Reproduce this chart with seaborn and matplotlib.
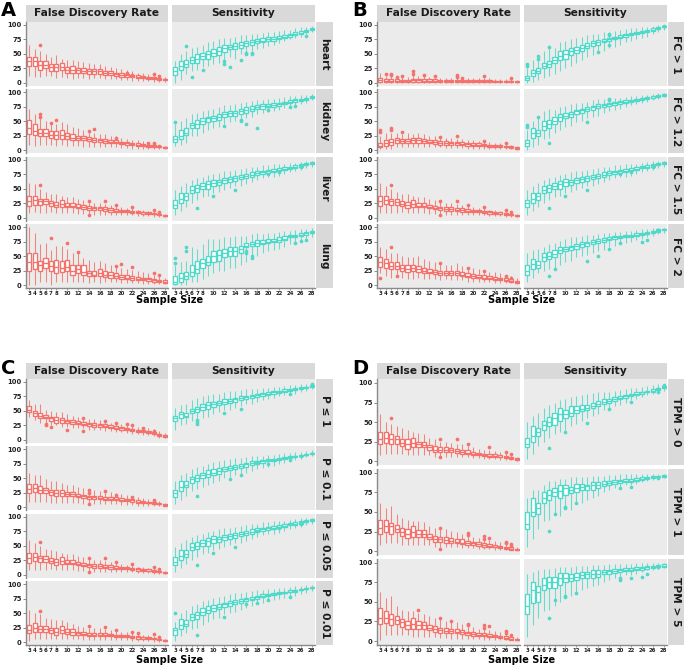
import numpy as np
import pandas as pd
import matplotlib
matplotlib.use("Agg")
import matplotlib.pyplot as plt
import seaborn as sns

# ---------------- categories / labels ----------------
SIZES = [3, 4, 5, 6, 7, 8, 9, 10, 11, 12, 13, 14, 15, 16, 17, 18, 19, 20, 21, 22, 23, 24, 25, 26, 27, 28]
XTICKS = [3, 4, 5, 6, 7, 8, 10, 12, 14, 16, 18, 20, 22, 24, 26, 28]
YTICKS = [0, 25, 50, 75, 100]
COLUMNS = ["False Discovery Rate", "Sensitivity"]
A_ROWS = ["heart", "kidney", "liver", "lung"]
B_ROWS = ["FC > 1", "FC > 1.2", "FC > 1.5", "FC > 2"]
C_ROWS = ["P \u2264 1", "P \u2264 0.1", "P \u2264 0.05", "P \u2264 0.01"]
D_ROWS = ["TPM > 0", "TPM > 1", "TPM > 5"]

# ---------------- Panel A ----------------
A1_fdr_med = [38,37,31,31,27,27,27,23,23,22,21,20,20,20,17,17,15,14,13,12,11,10,9,8,7,6]
A1_fdr_q1  = [30,30,22,25,20,20,22,18,18,18,17,16,16,16,14,14,12,11,11,10,9,8,7,6,5,5]
A1_fdr_q3  = [45,45,38,37,32,33,34,28,29,26,25,24,24,24,21,20,18,17,15,14,13,12,11,10,8,7]
A1_fdr_lo  = [12,10,10,12,12,8,10,8,6,8,8,6,8,8,6,6,6,5,5,4,4,3,3,2,2,2]
A1_fdr_hi  = [66,58,55,50,45,48,42,40,40,38,36,35,33,32,30,28,25,24,22,20,18,17,15,14,12,10]
A1_fdr_out = [(5,65),(21,17),(22,13),(26,15),(27,12)]
A1_sen_med = [20,30,32,40,42,47,50,52,55,60,62,63,65,68,70,72,73,75,76,78,80,82,84,86,90,93]
A1_sen_q1  = [14,22,27,35,35,42,42,47,49,54,58,58,60,63,66,68,70,72,73,75,78,80,82,84,88,91]
A1_sen_q3  = [27,37,40,45,50,52,55,58,62,65,66,68,70,72,74,76,78,79,80,81,83,85,87,89,92,95]
A1_sen_lo  = [0,5,15,20,22,28,30,32,35,40,45,42,50,52,55,58,60,63,66,68,72,75,78,80,84,88]
A1_sen_hi  = [38,50,55,60,62,65,70,72,75,78,78,80,82,82,85,85,86,88,88,90,92,92,94,96,97,98]
A1_sen_out = [(5,63),(6,10),(8,22),(12,38),(12,32),(13,27),(15,40),(16,50),(16,52),(17,50),(17,52),(27,81)]

A2_fdr_med = [38,33,30,30,26,26,27,24,22,21,21,20,18,17,16,15,14,13,12,11,10,9,8,7,6,5]
A2_fdr_q1  = [28,27,25,25,22,20,20,19,18,18,18,16,15,14,13,13,12,11,10,9,8,7,6,6,5,4]
A2_fdr_q3  = [52,45,37,36,33,33,35,30,28,25,25,23,21,20,19,18,17,15,14,13,12,11,10,9,8,6]
A2_fdr_lo  = [10,8,10,10,10,8,10,8,8,8,6,6,6,5,5,5,5,4,4,3,3,3,2,2,2,2]
A2_fdr_hi  = [72,62,55,50,45,45,48,45,40,38,35,33,30,28,28,25,24,22,20,18,17,16,14,12,10,8]
A2_fdr_out = [(5,58),(5,62),(7,47),(8,53),(14,33),(15,37),(19,22),(25,12),(26,12),(26,10),(27,8)]
A2_sen_med = [20,25,30,43,45,50,55,55,57,62,65,65,68,70,72,75,76,77,78,80,82,84,86,87,89,92]
A2_sen_q1  = [15,20,27,38,38,45,48,50,52,57,60,60,62,65,68,71,72,74,75,77,79,81,83,85,87,90]
A2_sen_q3  = [25,35,38,47,52,55,58,60,62,66,68,68,72,74,76,78,79,80,81,82,84,86,88,89,91,94]
A2_sen_lo  = [8,10,12,25,25,30,35,38,40,45,48,50,52,55,58,62,65,66,68,70,73,75,78,80,82,86]
A2_sen_hi  = [45,50,55,62,65,67,70,72,75,78,78,80,82,83,85,86,87,88,88,90,92,93,94,95,96,97]
A2_sen_out = [(3,48),(12,42),(15,50),(15,52),(16,46),(18,38),(20,69),(24,75),(25,76)]

A3_fdr_med = [28,30,28,28,25,22,23,21,21,19,18,17,16,16,15,13,12,12,11,10,9,9,8,7,6,3]
A3_fdr_q1  = [20,22,22,23,20,18,18,18,18,16,15,14,13,13,12,10,10,10,9,8,8,7,6,6,5,3]
A3_fdr_q3  = [38,38,33,32,28,27,30,25,25,23,22,20,19,18,18,16,15,14,13,12,11,10,9,8,7,4]
A3_fdr_lo  = [8,10,8,8,10,8,8,8,8,6,6,6,5,5,5,5,4,4,4,4,3,3,3,2,2,2]
A3_fdr_hi  = [60,58,50,45,40,40,38,36,35,32,30,28,26,25,24,22,20,18,17,16,14,13,12,11,10,6]
A3_fdr_out = [(5,56),(14,28),(14,5),(17,28),(19,22),(22,19),(26,13),(27,10)]
A3_sen_med = [22,32,37,48,52,55,58,60,62,65,67,68,70,72,74,77,78,80,81,82,84,86,88,90,92,94]
A3_sen_q1  = [17,25,30,42,45,50,50,55,57,60,62,63,66,68,70,73,75,77,78,80,82,84,86,88,90,93]
A3_sen_q3  = [30,42,42,55,57,60,64,65,65,68,70,72,74,76,78,80,81,83,84,85,87,88,90,92,94,96]
A3_sen_lo  = [5,12,18,25,30,35,38,42,45,48,52,55,55,58,62,65,68,70,70,72,75,78,80,82,85,88]
A3_sen_hi  = [48,55,60,65,68,70,74,75,77,80,80,82,84,86,87,88,90,90,92,92,93,94,95,96,98,98]
A3_sen_out = [(7,17),(10,38),(14,48),(20,76),(22,78),(26,87)]

A4_fdr_med = [40,40,35,38,33,32,30,32,25,27,23,20,18,20,18,17,16,14,13,12,11,10,10,8,7,6]
A4_fdr_q1  = [25,28,25,30,25,20,22,25,18,20,18,15,15,16,14,13,13,11,10,9,8,8,7,6,5,4]
A4_fdr_q3  = [55,55,42,46,42,43,42,43,35,35,35,25,24,28,24,22,20,18,17,16,14,13,12,11,9,8]
A4_fdr_lo  = [0,0,5,5,0,5,5,5,5,5,5,3,5,3,5,5,5,3,3,3,3,2,2,2,2,2]
A4_fdr_hi  = [100,90,70,72,60,68,67,63,55,55,46,43,40,42,38,35,32,30,28,26,24,22,20,18,15,12]
A4_fdr_out = [(7,81),(10,73),(12,57),(19,33),(20,36),(22,31),(26,21),(27,17)]
A4_sen_med = [5,12,15,22,28,38,40,50,52,55,58,58,62,68,70,72,72,75,76,77,80,84,84,87,89,92]
A4_sen_q1  = [2,5,10,15,20,30,35,40,42,48,50,50,55,65,67,68,70,72,74,75,78,82,82,85,87,90]
A4_sen_q3  = [15,20,22,35,42,45,50,58,60,62,65,65,68,72,74,78,78,80,80,82,84,87,87,90,92,94]
A4_sen_lo  = [0,0,0,5,5,10,15,20,25,25,30,30,35,40,45,50,55,58,60,62,65,70,72,75,78,82]
A4_sen_hi  = [35,40,42,65,62,70,80,80,80,82,82,85,85,85,88,90,88,90,90,92,93,94,95,96,97,98]
A4_sen_out = [(3,46),(3,38),(5,65),(5,58),(16,58),(16,56),(17,50),(17,47),(25,73),(26,76),(27,78)]

# ---------------- Panel B ----------------
B1_fdr_med = [5,4,4,4,3,3,5,5,4,4,4,3,3,4,4,4,4,4,4,4,4,3,3,3,3,2]
B1_fdr_q1  = [2,2,2,2,2,2,2,2,2,2,2,2,2,2,2,2,2,2,2,2,2,2,2,2,1,1]
B1_fdr_q3  = [8,6,6,6,5,5,6,6,6,6,6,5,5,5,5,5,5,5,5,5,5,4,4,4,4,3]
B1_fdr_lo  = [0,0,0,0,0,0,0,0,0,0,0,0,0,0,0,0,0,0,0,0,0,0,0,0,0,0]
B1_fdr_hi  = [18,12,14,12,10,10,14,12,12,10,10,9,9,8,10,10,9,8,8,8,8,7,7,6,6,5]
B1_fdr_out = [(4,15),(5,16),(5,14),(6,10),(7,12),(9,20),(9,15),(11,14),(13,12),(17,14),(17,11),(18,9),(22,12),(27,8)]
B1_sen_med = [8,18,20,30,32,40,47,50,55,57,60,63,68,70,72,75,78,80,82,84,86,88,90,92,94,97]
B1_sen_q1  = [5,12,17,25,27,35,40,42,48,52,55,60,63,66,70,72,75,78,80,82,84,86,88,90,93,96]
B1_sen_q3  = [12,22,25,35,38,45,55,57,60,62,65,68,72,74,76,78,80,83,84,86,88,90,92,94,96,98]
B1_sen_lo  = [0,2,5,8,12,15,20,25,30,35,40,45,48,55,55,60,62,65,70,72,75,78,80,85,88,92]
B1_sen_hi  = [25,40,45,55,65,60,70,72,75,78,80,82,84,85,87,88,90,92,93,94,95,96,97,98,99,100]
B1_sen_out = [(3,33),(3,30),(5,47),(5,42),(7,62),(16,54),(18,84),(18,82),(18,66),(28,98)]

B2_fdr_med = [8,12,15,17,16,16,17,18,16,15,14,13,13,12,12,11,11,10,10,9,8,8,7,6,5,4]
B2_fdr_q1  = [5,7,10,12,12,12,12,13,13,12,11,10,10,10,9,9,8,8,8,7,6,6,5,5,4,3]
B2_fdr_q3  = [12,18,20,22,20,20,22,21,19,18,17,16,16,15,15,14,13,12,12,11,10,10,9,8,7,5]
B2_fdr_lo  = [2,3,3,5,5,5,5,5,5,5,5,5,4,4,4,4,3,3,3,3,3,2,2,2,2,1]
B2_fdr_hi  = [25,30,30,30,28,30,28,30,28,25,24,22,22,21,20,20,18,17,16,15,14,13,12,11,10,7]
B2_fdr_out = [(3,35),(3,32),(5,38),(5,35),(7,31),(14,23),(17,24),(22,16),(26,12)]
B2_sen_med = [12,30,30,42,45,50,58,60,62,67,70,72,74,77,78,80,81,83,84,85,87,88,90,91,93,95]
B2_sen_q1  = [8,22,25,35,38,45,50,55,58,62,65,68,70,73,75,77,78,80,82,83,85,86,88,90,92,94]
B2_sen_q3  = [18,38,35,50,52,57,63,65,66,70,72,75,76,79,80,82,83,85,86,87,88,90,92,93,95,97]
B2_sen_lo  = [0,5,10,20,22,30,35,40,42,48,50,55,58,60,65,68,70,72,75,78,80,82,84,86,88,92]
B2_sen_hi  = [35,50,55,68,72,70,75,76,80,82,82,84,86,88,88,89,90,91,92,93,94,95,96,97,98,99]
B2_sen_out = [(3,44),(3,40),(5,57),(7,13),(14,49),(18,88),(18,86)]

B3_fdr_med = [28,30,28,27,23,22,23,21,21,19,17,16,15,15,14,13,12,12,11,10,9,8,7,6,5,3]
B3_fdr_q1  = [20,24,22,22,20,17,18,18,18,16,15,14,12,12,12,10,10,10,9,8,7,7,6,5,4,3]
B3_fdr_q3  = [38,38,33,32,28,27,30,25,25,22,21,19,18,18,17,16,15,14,13,12,11,10,9,8,7,4]
B3_fdr_lo  = [8,8,8,8,10,8,8,8,8,6,6,6,5,5,5,5,4,4,4,4,3,3,3,2,2,2]
B3_fdr_hi  = [60,55,50,45,40,40,38,36,35,32,30,28,26,25,24,22,20,18,17,16,14,13,12,11,9,6]
B3_fdr_out = [(5,56),(14,28),(14,5),(17,28),(19,22),(22,19),(26,13),(27,10)]
B3_sen_med = [25,32,37,48,52,55,58,62,62,65,67,68,70,72,74,77,78,80,81,83,84,87,88,90,92,94]
B3_sen_q1  = [18,25,30,42,45,50,50,55,57,60,62,64,66,68,70,73,75,77,78,81,82,85,86,88,90,93]
B3_sen_q3  = [30,42,42,55,57,60,64,66,65,68,70,72,74,76,78,80,81,83,84,85,87,89,90,92,94,96]
B3_sen_lo  = [5,12,18,25,30,35,38,42,45,48,52,55,55,58,62,65,68,70,70,72,75,78,80,82,85,88]
B3_sen_hi  = [48,55,60,65,68,70,74,76,78,80,80,82,84,86,87,88,90,90,92,92,93,94,96,97,98,98]
B3_sen_out = [(7,17),(10,38),(14,48),(20,76),(22,78),(26,88)]

B4_fdr_med = [40,38,33,33,30,28,30,28,25,23,22,20,20,20,20,18,16,15,14,13,12,11,10,9,7,5]
B4_fdr_q1  = [32,30,27,28,25,22,25,23,20,20,19,17,17,17,17,15,14,12,12,11,10,9,8,7,6,4]
B4_fdr_q3  = [48,45,40,40,35,35,35,33,30,28,26,24,24,24,24,22,20,19,18,17,15,14,13,12,10,7]
B4_fdr_lo  = [20,15,12,15,12,10,10,12,10,10,10,8,10,8,8,8,6,6,6,6,5,4,4,3,3,2]
B4_fdr_hi  = [65,62,55,55,50,48,48,50,45,42,40,36,35,34,38,33,30,30,28,24,22,22,20,18,16,12]
B4_fdr_out = [(3,12),(5,65),(6,16),(14,38),(19,29),(22,25),(26,16),(27,12)]
B4_sen_med = [25,37,35,48,50,53,60,62,65,67,70,72,74,76,78,80,82,83,84,85,87,88,90,92,94,96]
B4_sen_q1  = [18,28,30,42,45,48,55,58,60,63,66,68,70,72,75,77,79,81,82,83,85,86,88,90,92,95]
B4_sen_q3  = [35,45,42,55,57,60,65,66,68,71,74,75,77,79,81,82,84,85,86,87,89,90,92,94,96,97]
B4_sen_lo  = [5,12,20,25,28,30,35,40,42,48,50,52,55,58,60,65,68,70,72,75,78,80,82,85,88,90]
B4_sen_hi  = [55,60,62,65,70,72,76,80,82,83,84,86,87,88,90,90,91,92,93,94,95,96,97,98,98,99]
B4_sen_out = [(7,15),(8,27),(14,42),(16,50),(18,63),(20,72),(24,75),(25,78),(27,95)]

# ---------------- Panel C ----------------
C1_fdr_med = [52,46,42,40,37,35,34,32,31,30,28,27,26,25,24,23,21,20,19,17,16,15,14,12,9,7]
C1_fdr_q1  = [48,42,37,37,33,30,30,29,28,27,25,24,23,23,22,20,19,18,17,15,14,13,12,10,7,5]
C1_fdr_q3  = [58,50,47,43,40,39,38,35,34,32,31,30,29,28,27,25,24,22,21,19,18,17,16,14,11,8]
C1_fdr_lo  = [40,35,30,28,25,25,22,22,20,20,20,18,18,18,16,15,14,13,12,11,10,9,8,6,4,3]
C1_fdr_hi  = [68,62,62,52,50,48,48,45,42,40,38,36,36,34,32,30,29,28,26,24,23,22,21,19,16,12]
C1_fdr_out = [(6,25),(6,28),(7,22),(10,18),(13,38),(13,15),(17,33),(19,29),(21,27),(22,25),(24,20),(26,15)]
C1_sen_med = [37,44,42,50,53,57,60,62,64,66,67,70,72,74,76,77,79,80,82,83,85,86,87,89,91,93]
C1_sen_q1  = [33,38,40,46,48,52,54,57,60,62,64,66,69,71,73,74,76,78,80,81,83,85,86,88,90,92]
C1_sen_q3  = [42,48,47,54,57,62,65,65,67,70,70,73,75,76,78,80,81,83,84,85,87,88,89,91,92,94]
C1_sen_lo  = [18,25,28,32,35,38,40,45,48,52,52,55,58,62,62,65,68,70,72,75,77,78,80,82,85,88]
C1_sen_hi  = [55,60,62,68,72,75,78,80,80,83,84,85,86,87,88,88,89,90,91,92,93,94,95,96,97,98]
C1_sen_out = [(7,34),(7,31),(7,27),(12,47),(15,53),(24,79),(28,96)]

C2_fdr_med = [32,34,30,30,27,24,25,23,23,20,19,17,17,16,15,15,14,13,13,12,10,9,8,7,6,4]
C2_fdr_q1  = [25,27,25,25,22,20,20,20,20,17,16,14,14,14,13,13,12,11,11,10,8,8,7,6,5,3]
C2_fdr_q3  = [40,40,36,34,30,30,30,26,26,23,22,20,20,19,18,18,17,16,15,14,12,11,10,9,8,5]
C2_fdr_lo  = [10,10,10,10,8,8,8,8,8,8,6,6,6,5,5,5,5,4,4,4,3,3,3,2,2,2]
C2_fdr_hi  = [60,55,56,48,45,45,42,38,38,35,33,30,30,28,27,26,25,23,22,20,18,16,14,13,11,8]
C2_fdr_out = [(14,30),(14,25),(14,6),(17,29),(19,22),(22,18),(26,13),(26,10)]
C2_sen_med = [25,35,38,48,50,55,58,60,62,66,68,70,71,74,76,78,79,81,82,83,85,86,88,89,91,93]
C2_sen_q1  = [18,28,35,42,45,50,52,55,57,62,64,66,68,70,73,75,77,79,80,82,83,85,87,88,90,92]
C2_sen_q3  = [30,45,45,53,55,60,65,66,67,70,72,73,74,77,79,80,82,83,84,85,87,88,89,91,92,94]
C2_sen_lo  = [5,12,20,28,32,35,38,42,45,50,52,55,58,60,62,66,68,70,72,75,77,80,82,84,86,88]
C2_sen_hi  = [45,55,60,66,70,72,75,78,80,82,83,85,85,86,88,88,89,90,91,92,93,94,95,96,97,98]
C2_sen_out = [(7,20),(13,48),(15,55),(18,76),(20,75),(24,82),(26,88)]

C3_fdr_med = [28,30,28,27,23,22,23,21,21,18,17,16,15,15,14,13,12,12,11,10,9,8,7,6,5,3]
C3_fdr_q1  = [20,24,22,22,20,17,18,18,18,16,15,14,12,12,12,10,10,10,9,8,7,7,6,5,4,3]
C3_fdr_q3  = [38,38,33,32,28,27,30,25,25,22,21,19,18,18,17,16,15,14,13,12,11,10,9,8,7,4]
C3_fdr_lo  = [8,8,8,8,10,8,8,8,8,6,6,6,5,5,5,5,4,4,4,4,3,3,3,2,2,2]
C3_fdr_hi  = [60,55,50,45,42,40,38,36,35,32,30,28,26,25,24,22,20,18,17,16,14,13,12,11,9,6]
C3_fdr_out = [(5,56),(14,28),(14,5),(17,28),(19,22),(22,19),(26,13),(27,10)]
C3_sen_med = [22,32,35,48,50,55,58,62,62,65,67,68,70,72,74,76,78,80,81,83,84,87,88,90,92,94]
C3_sen_q1  = [17,25,30,42,45,50,50,55,57,60,62,64,66,68,70,73,75,77,78,81,82,85,86,88,90,93]
C3_sen_q3  = [30,42,42,55,57,60,64,66,65,68,70,72,74,76,78,80,81,83,84,85,87,89,90,92,94,96]
C3_sen_lo  = [5,12,18,25,30,35,38,42,45,48,52,55,55,58,62,65,68,70,70,72,75,78,80,82,85,88]
C3_sen_hi  = [48,55,60,65,68,70,74,76,78,80,80,82,84,86,87,88,90,90,92,92,93,94,96,97,98,98]
C3_sen_out = [(7,17),(10,38),(14,48),(18,76),(22,80),(26,88)]

C4_fdr_med = [20,24,22,22,20,18,20,18,17,15,14,13,13,13,12,12,11,10,10,9,8,8,7,6,5,3]
C4_fdr_q1  = [15,18,18,18,15,13,15,14,13,12,12,11,11,10,10,10,9,8,8,7,6,6,5,5,4,2]
C4_fdr_q3  = [30,33,28,28,25,25,27,22,22,18,17,16,16,16,15,14,13,12,12,11,10,9,8,7,6,4]
C4_fdr_lo  = [2,5,5,5,5,5,5,5,5,5,4,4,4,3,3,3,3,3,3,2,2,2,2,1,1,1]
C4_fdr_hi  = [55,50,48,42,40,38,38,35,32,28,26,25,24,24,22,20,20,18,17,16,15,13,12,11,9,6]
C4_fdr_out = [(5,53),(14,27),(17,26),(19,20),(22,17),(23,15),(26,14),(27,8)]
C4_sen_med = [20,30,32,43,47,52,55,58,60,65,67,69,70,74,75,78,79,81,82,84,85,87,88,90,92,94]
C4_sen_q1  = [13,23,28,38,40,47,50,53,57,60,63,66,68,71,73,75,77,79,81,83,84,86,87,89,91,93]
C4_sen_q3  = [25,40,38,48,52,58,62,64,65,68,70,72,74,76,78,80,82,83,84,86,87,89,90,92,93,95]
C4_sen_lo  = [2,10,15,22,25,30,35,40,42,48,50,52,55,58,62,65,68,70,72,74,76,78,80,82,85,88]
C4_sen_hi  = [35,50,55,62,66,70,73,76,78,80,82,84,85,86,88,89,90,91,92,93,94,95,96,97,98,99]
C4_sen_out = [(3,50),(7,12),(12,44),(16,66),(18,67),(20,72),(24,78)]

# ---------------- Panel D ----------------
D1_fdr_med = [28,30,28,28,24,22,23,22,21,18,15,15,15,14,13,12,11,10,9,8,7,7,6,5,4,3]
D1_fdr_q1  = [22,24,22,22,20,16,18,18,18,15,12,12,12,12,11,10,9,8,8,7,6,6,5,4,3,2]
D1_fdr_q3  = [38,38,35,32,28,28,30,25,25,21,20,18,18,17,16,15,14,12,11,10,9,9,8,7,5,4]
D1_fdr_lo  = [8,10,10,10,10,8,8,8,8,8,6,6,6,5,5,5,5,4,4,3,3,3,2,2,2,1]
D1_fdr_hi  = [60,50,48,45,42,40,38,36,35,30,28,25,25,24,22,22,20,18,16,15,14,13,12,11,9,5]
D1_fdr_out = [(5,55),(14,29),(14,5),(17,28),(19,22),(23,18),(26,12),(27,9)]
D1_sen_med = [22,33,37,47,50,55,60,60,62,65,67,68,71,73,76,77,80,81,83,84,86,88,89,90,92,95]
D1_sen_q1  = [18,25,32,40,45,47,52,55,58,62,64,65,68,70,73,75,77,79,81,83,84,86,88,89,91,94]
D1_sen_q3  = [30,45,42,52,57,62,68,66,70,70,72,72,74,77,79,80,82,83,85,86,88,89,90,92,93,96]
D1_sen_lo  = [3,10,20,25,30,35,38,40,45,48,52,55,58,60,65,67,70,72,75,78,80,82,84,86,88,90]
D1_sen_hi  = [50,58,62,68,72,75,78,80,82,83,84,86,87,88,88,89,90,91,92,93,94,95,96,97,98,99]
D1_sen_out = [(7,17),(10,38),(14,49),(18,67),(22,76),(27,88),(27,92),(28,97)]

D2_fdr_med = [30,32,32,28,25,22,25,22,22,18,15,15,14,13,12,11,10,10,9,8,7,6,5,4,3,2]
D2_fdr_q1  = [22,25,22,24,20,17,18,18,18,15,12,12,11,11,10,9,8,8,7,6,6,5,4,3,2,2]
D2_fdr_q3  = [40,40,36,34,30,28,32,27,27,22,20,18,18,17,16,15,13,12,12,11,9,8,7,6,5,3]
D2_fdr_lo  = [8,10,10,10,8,8,8,8,8,8,6,6,6,5,5,4,4,4,3,3,3,2,2,2,1,1]
D2_fdr_hi  = [62,55,58,48,42,40,38,38,37,32,30,30,28,26,25,22,20,18,17,16,14,13,12,10,8,5]
D2_fdr_out = [(14,30),(14,3),(19,23),(19,21),(22,20),(22,16),(23,17),(26,12),(26,10),(27,9),(27,7)]
D2_sen_med = [35,50,55,68,72,75,77,80,78,80,82,83,84,85,86,87,88,89,90,90,91,92,93,94,95,96]
D2_sen_q1  = [28,45,48,62,65,70,68,72,74,75,78,78,78,80,83,85,86,87,88,88,90,91,92,93,94,95]
D2_sen_q3  = [50,68,62,75,78,80,84,84,82,86,86,85,88,88,89,90,91,91,92,92,93,94,95,96,96,97]
D2_sen_lo  = [5,15,28,38,40,48,45,55,52,60,62,65,68,70,75,78,80,82,84,84,86,88,90,91,92,93]
D2_sen_hi  = [68,78,78,85,90,90,92,92,94,94,95,95,96,96,96,97,97,98,98,98,98,99,99,99,99,99]
D2_sen_out = [(7,26),(8,48),(10,57),(10,55),(12,62),(20,80),(22,82),(27,93)]

D3_fdr_med = [30,30,28,27,24,20,22,20,20,17,16,14,13,13,12,11,10,9,8,8,7,6,5,4,3,2]
D3_fdr_q1  = [22,23,20,22,18,16,16,16,16,14,12,10,10,10,10,9,8,7,6,6,5,5,4,3,2,1]
D3_fdr_q3  = [42,38,35,32,28,26,29,25,24,21,19,17,17,16,15,14,12,11,10,10,9,8,7,6,5,3]
D3_fdr_lo  = [2,8,8,8,8,8,5,5,5,5,5,4,4,3,3,3,3,3,3,2,2,2,2,1,1,1]
D3_fdr_hi  = [63,55,57,45,40,38,38,36,35,32,30,28,25,25,24,22,20,18,16,15,14,13,12,10,8,5]
D3_fdr_out = [(10,40),(14,29),(16,26),(19,22),(19,20),(22,20),(22,17),(23,19),(26,13),(26,10),(27,8)]
D3_sen_med = [45,65,62,72,75,75,80,80,80,82,84,85,85,86,88,89,89,90,91,91,92,93,94,95,95,96]
D3_sen_q1  = [35,48,50,65,68,68,72,75,76,78,80,80,80,82,85,86,87,88,89,89,90,91,92,93,94,95]
D3_sen_q3  = [60,75,70,80,82,82,87,87,86,87,88,88,90,90,90,91,92,92,93,93,94,95,96,96,97,98]
D3_sen_lo  = [5,20,30,38,40,45,50,55,58,62,65,68,70,72,75,78,80,82,84,84,86,88,90,91,92,93]
D3_sen_hi  = [85,88,90,92,92,93,94,95,95,96,96,96,97,97,97,98,98,98,98,98,99,99,99,99,100,100]
D3_sen_out = [(7,29),(8,52),(10,57),(10,56),(12,61),(20,80),(20,78),(22,81),(24,82),(25,85),(27,94)]

# ---------------- style ----------------
RED = "#F4726B"
TURQ = "#4FD9C9"
PANEL_BG = "#EBEBEB"
STRIP_BG = "#D9D9D9"
AXIS_GRAY = "#8A8A8A"

sns.set_theme(style="dark", rc={"axes.facecolor": PANEL_BG, "axes.grid": False})
plt.rcParams["font.family"] = ["DejaVu Sans"]

W, H = 685, 667
fig = plt.figure(figsize=(W / 100, H / 100), dpi=100)
fig.patch.set_facecolor("white")


def px_ax(x0, y0, x1, y1):
    return fig.add_axes([x0 / W, 1 - y1 / H, (x1 - x0) / W, (y1 - y0) / H])


LAYOUT = {
    "A": dict(cols=[(26, 168), (172, 315)], strip=(316, 333), hdr=(5, 22), body=(22, 288),
              letter=(1, 1), xlab=(170, 300), rows=A_ROWS),
    "B": dict(cols=[(377, 520), (524, 667)], strip=(668, 684), hdr=(5, 22), body=(22, 288),
              letter=(352, 1), xlab=(522, 300), rows=B_ROWS),
    "C": dict(cols=[(26, 168), (172, 315)], strip=(316, 333), hdr=(363, 379), body=(379, 645),
              letter=(1, 359), xlab=(170, 660), rows=C_ROWS),
    "D": dict(cols=[(377, 520), (524, 667)], strip=(668, 684), hdr=(363, 379), body=(379, 645),
              letter=(352, 359), xlab=(522, 660), rows=D_ROWS),
}
GAP = 3.5


def draw_boxes(ax, key, color):
    lo = globals()[key + "_lo"]
    q1 = globals()[key + "_q1"]
    med = globals()[key + "_med"]
    q3 = globals()[key + "_q3"]
    hi = globals()[key + "_hi"]
    xs, vals = [], []
    for s, a, b, c, d, e in zip(SIZES, lo, q1, med, q3, hi):
        for v in (a, b, c, d, e):
            xs.append(s)
            vals.append(v)
    df = pd.DataFrame({"size": xs, "value": vals})
    sns.boxplot(data=df, x="size", y="value", native_scale=True, whis=(0, 100),
                width=0.78, color="white", linecolor=color, linewidth=0.95,
                saturation=1, showfliers=False, showcaps=False,
                whiskerprops={"linewidth": 0.75, "alpha": 0.85}, ax=ax)
    out = globals()[key + "_out"]
    if out:
        sns.scatterplot(x=[p[0] for p in out], y=[p[1] for p in out], color=color,
                        s=7, linewidth=0, legend=False, ax=ax, zorder=4)


for pname, L in LAYOUT.items():
    rows = L["rows"]
    n = len(rows)
    b0, b1 = L["body"]
    rh = (b1 - b0 - GAP * (n - 1)) / n
    # column headers
    for ci, (x0, x1) in enumerate(L["cols"]):
        hax = px_ax(x0, L["hdr"][0], x1, L["hdr"][1])
        hax.set_facecolor(STRIP_BG)
        hax.set_xticks([]); hax.set_yticks([])
        for sp in hax.spines.values():
            sp.set_visible(False)
        hax.text(0.5, 0.5, COLUMNS[ci], ha="center", va="center", fontsize=7.7,
                 fontweight="bold", color="#1a1a1a", transform=hax.transAxes)
    for ri in range(n):
        y0 = b0 + ri * (rh + GAP)
        y1 = y0 + rh
        for ci, (x0, x1) in enumerate(L["cols"]):
            ax = px_ax(x0, y0, x1, y1)
            metric = "fdr" if ci == 0 else "sen"
            color = RED if ci == 0 else TURQ
            draw_boxes(ax, f"{pname}{ri + 1}_{metric}", color)
            ax.set_facecolor(PANEL_BG)
            ax.grid(False)
            ax.set_xlim(2.4, 28.6)
            ax.set_ylim(-5, 105)
            ax.set_xlabel("")
            ax.set_ylabel("")
            for sp in ax.spines.values():
                sp.set_visible(False)
            ax.set_yticks(YTICKS)
            ax.set_xticks(XTICKS)
            if ci == 0:
                ax.spines["left"].set_visible(True)
                ax.spines["left"].set_color(AXIS_GRAY)
                ax.spines["left"].set_linewidth(1.0)
                ax.set_yticklabels([str(v) for v in YTICKS], fontsize=4.9,
                                   fontweight="bold", color="#222222")
                ax.tick_params(axis="y", left=True, length=2, width=0.7,
                               color=AXIS_GRAY, pad=1)
            else:
                ax.tick_params(axis="y", left=False, labelleft=False)
            if ri == n - 1:
                ax.spines["bottom"].set_visible(True)
                ax.spines["bottom"].set_color(AXIS_GRAY)
                ax.spines["bottom"].set_linewidth(1.0)
                ax.set_xticklabels([str(v) for v in XTICKS], fontsize=3.9,
                                   fontweight="bold", color="#222222")
                ax.tick_params(axis="x", bottom=True, length=1.5, width=0.6,
                               color=AXIS_GRAY, pad=1)
            else:
                ax.tick_params(axis="x", bottom=False, labelbottom=False)
        # right strip
        sx0, sx1 = L["strip"]
        sax = px_ax(sx0, y0, sx1, y1)
        sax.set_facecolor(STRIP_BG)
        sax.set_xticks([]); sax.set_yticks([])
        for sp in sax.spines.values():
            sp.set_visible(False)
        sax.text(0.5, 0.5, rows[ri], ha="center", va="center", rotation=270,
                 fontsize=7.7, fontweight="bold", color="#1a1a1a",
                 transform=sax.transAxes)
    # panel letter
    lx, ly = L["letter"]
    fig.text(lx / W, 1 - ly / H, pname, ha="left", va="top", fontsize=14,
             fontweight="bold", color="black")
    # x axis title
    cx, cy = L["xlab"]
    fig.text(cx / W, 1 - cy / H, "Sample Size", ha="center", va="center",
             fontsize=7.0, fontweight="bold", color="black")

fig.savefig("out.png", dpi=100, facecolor="white")
